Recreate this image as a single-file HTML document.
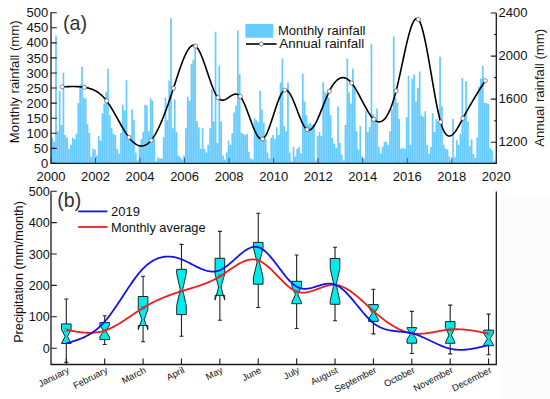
<!DOCTYPE html>
<html><head><meta charset="utf-8"><title>Rainfall</title>
<style>html,body{margin:0;padding:0;background:#fff;}svg{display:block;}</style>
</head><body>
<svg width="550" height="399" viewBox="0 0 550 399"><rect x="0" y="0" width="550" height="399" fill="#fff"/>
<rect x="500" y="197" width="50" height="202" fill="#fcfcfc"/>
<path d="M51.45 163.40V137.78h1.7V163.40zM53.31 163.40V141.70h1.7V163.40zM55.16 163.40V35.61h1.7V163.40zM57.02 163.40V131.15h1.7V163.40zM58.87 163.40V91.06h1.7V163.40zM60.73 163.40V125.12h1.7V163.40zM62.58 163.40V72.68h1.7V163.40zM64.44 163.40V135.07h1.7V163.40zM66.29 163.40V137.78h1.7V163.40zM68.15 163.40V148.63h1.7V163.40zM70.00 163.40V144.71h1.7V163.40zM71.86 163.40V137.78h1.7V163.40zM73.72 163.40V138.99h1.7V163.40zM75.57 163.40V133.86h1.7V163.40zM77.43 163.40V103.12h1.7V163.40zM79.28 163.40V84.43h1.7V163.40zM81.14 163.40V66.65h1.7V163.40zM82.99 163.40V97.69h1.7V163.40zM84.85 163.40V98.60h1.7V163.40zM86.70 163.40V124.22h1.7V163.40zM88.56 163.40V132.96h1.7V163.40zM90.41 163.40V156.47h1.7V163.40zM92.27 163.40V148.63h1.7V163.40zM94.12 163.40V149.54h1.7V163.40zM95.98 163.40V155.56h1.7V163.40zM97.84 163.40V135.97h1.7V163.40zM99.69 163.40V140.80h1.7V163.40zM101.55 163.40V113.37h1.7V163.40zM103.40 163.40V103.42h1.7V163.40zM105.26 163.40V91.67h1.7V163.40zM107.11 163.40V68.76h1.7V163.40zM108.97 163.40V115.18h1.7V163.40zM110.82 163.40V128.14h1.7V163.40zM112.68 163.40V133.86h1.7V163.40zM114.53 163.40V135.07h1.7V163.40zM116.39 163.40V148.63h1.7V163.40zM118.25 163.40V153.45h1.7V163.40zM120.10 163.40V132.96h1.7V163.40zM121.96 163.40V104.63h1.7V163.40zM123.81 163.40V110.35h1.7V163.40zM125.67 163.40V80.21h1.7V163.40zM127.52 163.40V136.88h1.7V163.40zM129.38 163.40V139.89h1.7V163.40zM131.23 163.40V109.45h1.7V163.40zM133.09 163.40V120.30h1.7V163.40zM134.94 163.40V152.55h1.7V163.40zM136.80 163.40V160.39h1.7V163.40zM138.65 163.40V145.62h1.7V163.40zM140.51 163.40V138.99h1.7V163.40zM142.37 163.40V132.05h1.7V163.40zM144.22 163.40V104.63h1.7V163.40zM146.08 163.40V105.53h1.7V163.40zM147.93 163.40V131.15h1.7V163.40zM149.79 163.40V98.60h1.7V163.40zM151.64 163.40V100.71h1.7V163.40zM153.50 163.40V138.99h1.7V163.40zM155.35 163.40V161.29h1.7V163.40zM157.21 163.40V157.37h1.7V163.40zM159.06 163.40V158.58h1.7V163.40zM160.92 163.40V158.58h1.7V163.40zM162.77 163.40V136.88h1.7V163.40zM164.63 163.40V97.69h1.7V163.40zM166.49 163.40V120.30h1.7V163.40zM168.34 163.40V80.52h1.7V163.40zM170.20 163.40V18.13h1.7V163.40zM172.05 163.40V128.14h1.7V163.40zM173.91 163.40V99.50h1.7V163.40zM175.76 163.40V132.05h1.7V163.40zM177.62 163.40V155.56h1.7V163.40zM179.47 163.40V157.37h1.7V163.40zM181.33 163.40V159.48h1.7V163.40zM183.18 163.40V155.56h1.7V163.40zM185.04 163.40V128.14h1.7V163.40zM186.90 163.40V96.79h1.7V163.40zM188.75 163.40V100.71h1.7V163.40zM190.61 163.40V63.94h1.7V163.40zM192.46 163.40V59.72h1.7V163.40zM194.32 163.40V43.74h1.7V163.40zM196.17 163.40V121.20h1.7V163.40zM198.03 163.40V127.23h1.7V163.40zM199.88 163.40V148.63h1.7V163.40zM201.74 163.40V128.14h1.7V163.40zM203.59 163.40V148.63h1.7V163.40zM205.45 163.40V152.55h1.7V163.40zM207.31 163.40V144.71h1.7V163.40zM209.16 163.40V128.14h1.7V163.40zM211.02 163.40V89.86h1.7V163.40zM212.87 163.40V121.20h1.7V163.40zM214.73 163.40V31.69h1.7V163.40zM216.58 163.40V142.90h1.7V163.40zM218.44 163.40V65.75h1.7V163.40zM220.29 163.40V121.20h1.7V163.40zM222.15 163.40V155.56h1.7V163.40zM224.00 163.40V159.48h1.7V163.40zM225.86 163.40V152.55h1.7V163.40zM227.71 163.40V140.80h1.7V163.40zM229.57 163.40V144.71h1.7V163.40zM231.43 163.40V132.96h1.7V163.40zM233.28 163.40V112.46h1.7V163.40zM235.14 163.40V105.53h1.7V163.40zM236.99 163.40V30.48h1.7V163.40zM238.85 163.40V74.19h1.7V163.40zM240.70 163.40V132.96h1.7V163.40zM242.56 163.40V133.86h1.7V163.40zM244.41 163.40V135.07h1.7V163.40zM246.27 163.40V133.86h1.7V163.40zM248.12 163.40V151.65h1.7V163.40zM249.98 163.40V158.58h1.7V163.40zM251.84 163.40V159.48h1.7V163.40zM253.69 163.40V118.19h1.7V163.40zM255.55 163.40V120.30h1.7V163.40zM257.40 163.40V122.11h1.7V163.40zM259.26 163.40V90.76h1.7V163.40zM261.11 163.40V109.45h1.7V163.40zM262.97 163.40V123.01h1.7V163.40zM264.82 163.40V138.99h1.7V163.40zM266.68 163.40V152.55h1.7V163.40zM268.53 163.40V158.58h1.7V163.40zM270.39 163.40V137.78h1.7V163.40zM272.24 163.40V135.07h1.7V163.40zM274.10 163.40V138.99h1.7V163.40zM275.96 163.40V127.23h1.7V163.40zM277.81 163.40V135.07h1.7V163.40zM279.67 163.40V82.62h1.7V163.40zM281.52 163.40V58.51h1.7V163.40zM283.38 163.40V126.03h1.7V163.40zM285.23 163.40V131.15h1.7V163.40zM287.09 163.40V82.62h1.7V163.40zM288.94 163.40V152.55h1.7V163.40zM290.80 163.40V161.29h1.7V163.40zM292.65 163.40V146.82h1.7V163.40zM294.51 163.40V156.47h1.7V163.40zM296.36 163.40V148.63h1.7V163.40zM298.22 163.40V146.82h1.7V163.40zM300.08 163.40V153.45h1.7V163.40zM301.93 163.40V73.58h1.7V163.40zM303.79 163.40V101.61h1.7V163.40zM305.64 163.40V115.18h1.7V163.40zM307.50 163.40V124.22h1.7V163.40zM309.35 163.40V123.01h1.7V163.40zM311.21 163.40V125.12h1.7V163.40zM313.06 163.40V124.22h1.7V163.40zM314.92 163.40V160.39h1.7V163.40zM316.77 163.40V135.97h1.7V163.40zM318.63 163.40V132.05h1.7V163.40zM320.49 163.40V135.97h1.7V163.40zM322.34 163.40V82.32h1.7V163.40zM324.20 163.40V91.67h1.7V163.40zM326.05 163.40V93.78h1.7V163.40zM327.91 163.40V97.69h1.7V163.40zM329.76 163.40V115.18h1.7V163.40zM331.62 163.40V137.78h1.7V163.40zM333.47 163.40V143.81h1.7V163.40zM335.33 163.40V147.73h1.7V163.40zM337.18 163.40V106.44h1.7V163.40zM339.04 163.40V142.90h1.7V163.40zM340.89 163.40V154.66h1.7V163.40zM342.75 163.40V160.39h1.7V163.40zM344.61 163.40V125.12h1.7V163.40zM346.46 163.40V58.51h1.7V163.40zM348.32 163.40V92.57h1.7V163.40zM350.17 163.40V103.42h1.7V163.40zM352.03 163.40V68.46h1.7V163.40zM353.88 163.40V88.05h1.7V163.40zM355.74 163.40V131.15h1.7V163.40zM357.59 163.40V149.54h1.7V163.40zM359.45 163.40V126.03h1.7V163.40zM361.30 163.40V156.47h1.7V163.40zM363.16 163.40V158.58h1.7V163.40zM365.02 163.40V111.26h1.7V163.40zM366.87 163.40V132.05h1.7V163.40zM368.73 163.40V127.23h1.7V163.40zM370.58 163.40V43.74h1.7V163.40zM372.44 163.40V114.27h1.7V163.40zM374.29 163.40V120.30h1.7V163.40zM376.15 163.40V108.55h1.7V163.40zM378.00 163.40V146.82h1.7V163.40zM379.86 163.40V153.45h1.7V163.40zM381.71 163.40V146.82h1.7V163.40zM383.57 163.40V141.70h1.7V163.40zM385.43 163.40V141.70h1.7V163.40zM387.28 163.40V144.71h1.7V163.40zM389.14 163.40V131.15h1.7V163.40zM390.99 163.40V109.45h1.7V163.40zM392.85 163.40V36.51h1.7V163.40zM394.70 163.40V97.69h1.7V163.40zM396.56 163.40V102.52h1.7V163.40zM398.41 163.40V119.09h1.7V163.40zM400.27 163.40V148.63h1.7V163.40zM402.12 163.40V147.73h1.7V163.40zM403.98 163.40V148.63h1.7V163.40zM405.83 163.40V117.29h1.7V163.40zM407.69 163.40V75.69h1.7V163.40zM409.55 163.40V144.71h1.7V163.40zM411.40 163.40V78.71h1.7V163.40zM413.26 163.40V74.49h1.7V163.40zM415.11 163.40V101.61h1.7V163.40zM416.97 163.40V88.05h1.7V163.40zM418.82 163.40V71.47h1.7V163.40zM420.68 163.40V115.18h1.7V163.40zM422.53 163.40V116.38h1.7V163.40zM424.39 163.40V111.26h1.7V163.40zM426.24 163.40V144.71h1.7V163.40zM428.10 163.40V153.45h1.7V163.40zM429.95 163.40V146.82h1.7V163.40zM431.81 163.40V113.37h1.7V163.40zM433.67 163.40V132.05h1.7V163.40zM435.52 163.40V119.09h1.7V163.40zM437.38 163.40V121.20h1.7V163.40zM439.23 163.40V56.70h1.7V163.40zM441.09 163.40V106.44h1.7V163.40zM442.94 163.40V144.71h1.7V163.40zM444.80 163.40V148.63h1.7V163.40zM446.65 163.40V149.54h1.7V163.40zM448.51 163.40V156.47h1.7V163.40zM450.36 163.40V160.39h1.7V163.40zM452.22 163.40V119.09h1.7V163.40zM454.08 163.40V157.37h1.7V163.40zM455.93 163.40V139.89h1.7V163.40zM457.79 163.40V144.71h1.7V163.40zM459.64 163.40V133.86h1.7V163.40zM461.50 163.40V78.10h1.7V163.40zM463.35 163.40V117.29h1.7V163.40zM465.21 163.40V81.12h1.7V163.40zM467.06 163.40V121.20h1.7V163.40zM468.92 163.40V146.22h1.7V163.40zM470.77 163.40V139.29h1.7V163.40zM472.63 163.40V154.06h1.7V163.40zM474.49 163.40V157.97h1.7V163.40zM476.34 163.40V137.48h1.7V163.40zM478.20 163.40V86.54h1.7V163.40zM480.05 163.40V78.41h1.7V163.40zM481.91 163.40V66.05h1.7V163.40zM483.76 163.40V103.12h1.7V163.40zM485.62 163.40V103.12h1.7V163.40zM487.47 163.40V104.02h1.7V163.40zM489.33 163.40V148.33h1.7V163.40zM491.18 163.40V150.14h1.7V163.40zM493.04 163.40V160.69h1.7V163.40zM494.89 163.40V161.89h1.7V163.40z" fill="#66ccff"/>
<path d="M62.13 86.90 L62.84 86.87 L63.54 86.83 L64.25 86.80 L64.96 86.76 L65.66 86.73 L66.37 86.70 L67.08 86.67 L67.78 86.65 L68.49 86.62 L69.19 86.60 L69.90 86.58 L70.61 86.56 L71.31 86.55 L72.02 86.54 L72.73 86.54 L73.43 86.54 L74.14 86.54 L74.84 86.55 L75.55 86.57 L76.26 86.58 L76.96 86.61 L77.67 86.64 L78.38 86.68 L79.08 86.72 L79.79 86.78 L80.49 86.83 L81.20 86.90 L81.91 86.97 L82.61 87.06 L83.32 87.15 L84.03 87.24 L84.73 87.35 L85.44 87.47 L86.14 87.60 L86.85 87.74 L87.56 87.89 L88.26 88.06 L88.97 88.24 L89.68 88.44 L90.38 88.65 L91.09 88.88 L91.79 89.14 L92.50 89.41 L93.21 89.70 L93.91 90.02 L94.62 90.36 L95.33 90.73 L96.03 91.12 L96.74 91.54 L97.44 91.99 L98.15 92.46 L98.86 92.97 L99.56 93.51 L100.27 94.08 L100.98 94.68 L101.68 95.32 L102.39 95.99 L103.09 96.70 L103.80 97.45 L104.51 98.24 L105.21 99.07 L105.92 99.94 L106.63 100.85 L107.33 101.81 L108.04 102.80 L108.74 103.83 L109.45 104.90 L110.16 106.00 L110.86 107.13 L111.57 108.29 L112.28 109.47 L112.98 110.68 L113.69 111.90 L114.39 113.13 L115.10 114.38 L115.81 115.64 L116.51 116.91 L117.22 118.18 L117.93 119.46 L118.63 120.73 L119.34 122.00 L120.04 123.26 L120.75 124.51 L121.46 125.75 L122.16 126.98 L122.87 128.18 L123.57 129.37 L124.28 130.53 L124.99 131.67 L125.69 132.78 L126.40 133.85 L127.11 134.89 L127.81 135.90 L128.52 136.86 L129.22 137.78 L129.93 138.66 L130.64 139.49 L131.34 140.27 L132.05 141.01 L132.76 141.70 L133.46 142.34 L134.17 142.93 L134.87 143.47 L135.58 143.96 L136.29 144.40 L136.99 144.79 L137.70 145.12 L138.41 145.40 L139.11 145.62 L139.82 145.79 L140.52 145.91 L141.23 145.97 L141.94 145.96 L142.64 145.91 L143.35 145.79 L144.06 145.61 L144.76 145.37 L145.47 145.07 L146.17 144.71 L146.88 144.29 L147.59 143.80 L148.29 143.25 L149.00 142.63 L149.71 141.95 L150.41 141.20 L151.12 140.39 L151.82 139.51 L152.53 138.56 L153.24 137.54 L153.94 136.47 L154.65 135.33 L155.36 134.13 L156.06 132.87 L156.77 131.56 L157.47 130.19 L158.18 128.77 L158.89 127.30 L159.59 125.78 L160.30 124.21 L161.01 122.60 L161.71 120.93 L162.42 119.23 L163.12 117.49 L163.83 115.70 L164.54 113.88 L165.24 112.02 L165.95 110.13 L166.66 108.20 L167.36 106.25 L168.07 104.26 L168.77 102.24 L169.48 100.20 L170.19 98.14 L170.89 96.05 L171.60 93.94 L172.31 91.81 L173.01 89.66 L173.72 87.50 L174.42 85.33 L175.13 83.14 L175.84 80.96 L176.54 78.79 L177.25 76.63 L177.96 74.48 L178.66 72.37 L179.37 70.28 L180.07 68.23 L180.78 66.23 L181.49 64.28 L182.19 62.39 L182.90 60.57 L183.60 58.81 L184.31 57.13 L185.02 55.54 L185.72 54.03 L186.43 52.62 L187.14 51.32 L187.84 50.12 L188.55 49.04 L189.25 48.08 L189.96 47.25 L190.67 46.56 L191.37 46.00 L192.08 45.60 L192.79 45.35 L193.49 45.26 L194.20 45.33 L194.90 45.58 L195.61 46.02 L196.32 46.63 L197.02 47.42 L197.73 48.38 L198.44 49.50 L199.14 50.76 L199.85 52.15 L200.55 53.67 L201.26 55.29 L201.97 57.01 L202.67 58.82 L203.38 60.71 L204.09 62.66 L204.79 64.67 L205.50 66.72 L206.20 68.80 L206.91 70.89 L207.62 73.00 L208.32 75.11 L209.03 77.20 L209.74 79.26 L210.44 81.29 L211.15 83.27 L211.85 85.19 L212.56 87.05 L213.27 88.82 L213.97 90.49 L214.68 92.06 L215.39 93.52 L216.09 94.85 L216.80 96.04 L217.50 97.08 L218.21 97.96 L218.92 98.68 L219.62 99.24 L220.33 99.66 L221.04 99.94 L221.74 100.10 L222.45 100.15 L223.15 100.10 L223.86 99.96 L224.57 99.74 L225.27 99.45 L225.98 99.10 L226.69 98.70 L227.39 98.27 L228.10 97.81 L228.80 97.34 L229.51 96.86 L230.22 96.38 L230.92 95.92 L231.63 95.49 L232.34 95.10 L233.04 94.75 L233.75 94.47 L234.45 94.25 L235.16 94.12 L235.87 94.07 L236.57 94.13 L237.28 94.30 L237.99 94.60 L238.69 95.03 L239.40 95.60 L240.10 96.33 L240.81 97.22 L241.52 98.27 L242.22 99.46 L242.93 100.79 L243.63 102.24 L244.34 103.79 L245.05 105.44 L245.75 107.16 L246.46 108.96 L247.17 110.80 L247.87 112.69 L248.58 114.61 L249.28 116.54 L249.99 118.48 L250.70 120.40 L251.40 122.30 L252.11 124.16 L252.82 125.98 L253.52 127.73 L254.23 129.41 L254.93 131.00 L255.64 132.48 L256.35 133.85 L257.05 135.10 L257.76 136.20 L258.47 137.15 L259.17 137.94 L259.88 138.54 L260.58 138.96 L261.29 139.17 L262.00 139.15 L262.70 138.91 L263.41 138.44 L264.12 137.74 L264.82 136.84 L265.53 135.74 L266.23 134.47 L266.94 133.04 L267.65 131.47 L268.35 129.76 L269.06 127.95 L269.77 126.03 L270.47 124.03 L271.18 121.96 L271.88 119.84 L272.59 117.68 L273.30 115.50 L274.00 113.32 L274.71 111.14 L275.42 108.99 L276.12 106.87 L276.83 104.82 L277.53 102.83 L278.24 100.92 L278.95 99.12 L279.65 97.44 L280.36 95.88 L281.07 94.47 L281.77 93.23 L282.48 92.16 L283.18 91.29 L283.89 90.62 L284.60 90.18 L285.30 89.97 L286.01 90.00 L286.72 90.24 L287.42 90.69 L288.13 91.33 L288.83 92.15 L289.54 93.13 L290.25 94.26 L290.95 95.53 L291.66 96.91 L292.37 98.40 L293.07 99.99 L293.78 101.65 L294.48 103.38 L295.19 105.16 L295.90 106.98 L296.60 108.82 L297.31 110.67 L298.02 112.51 L298.72 114.34 L299.43 116.13 L300.13 117.88 L300.84 119.56 L301.55 121.17 L302.25 122.70 L302.96 124.12 L303.67 125.42 L304.37 126.59 L305.08 127.62 L305.78 128.49 L306.49 129.18 L307.20 129.69 L307.90 130.01 L308.61 130.14 L309.31 130.09 L310.02 129.87 L310.73 129.49 L311.43 128.95 L312.14 128.28 L312.85 127.47 L313.55 126.53 L314.26 125.48 L314.96 124.32 L315.67 123.06 L316.38 121.70 L317.08 120.27 L317.79 118.76 L318.50 117.19 L319.20 115.56 L319.91 113.88 L320.61 112.17 L321.32 110.42 L322.03 108.66 L322.73 106.88 L323.44 105.10 L324.15 103.32 L324.85 101.56 L325.56 99.82 L326.26 98.11 L326.97 96.44 L327.68 94.82 L328.38 93.25 L329.09 91.76 L329.80 90.33 L330.50 88.99 L331.21 87.72 L331.91 86.53 L332.62 85.41 L333.33 84.38 L334.03 83.41 L334.74 82.53 L335.45 81.71 L336.15 80.98 L336.86 80.31 L337.56 79.73 L338.27 79.21 L338.98 78.77 L339.68 78.41 L340.39 78.11 L341.10 77.89 L341.80 77.75 L342.51 77.67 L343.21 77.67 L343.92 77.74 L344.63 77.88 L345.33 78.09 L346.04 78.37 L346.75 78.72 L347.45 79.14 L348.16 79.64 L348.86 80.20 L349.57 80.83 L350.28 81.53 L350.98 82.30 L351.69 83.14 L352.40 84.04 L353.10 85.01 L353.81 86.03 L354.51 87.11 L355.22 88.24 L355.93 89.41 L356.63 90.62 L357.34 91.86 L358.05 93.13 L358.75 94.43 L359.46 95.75 L360.16 97.08 L360.87 98.43 L361.58 99.78 L362.28 101.13 L362.99 102.48 L363.70 103.82 L364.40 105.14 L365.11 106.45 L365.81 107.74 L366.52 109.00 L367.23 110.23 L367.93 111.42 L368.64 112.56 L369.34 113.67 L370.05 114.72 L370.76 115.72 L371.46 116.65 L372.17 117.52 L372.88 118.33 L373.58 119.05 L374.29 119.70 L374.99 120.27 L375.70 120.75 L376.41 121.14 L377.11 121.45 L377.82 121.67 L378.53 121.80 L379.23 121.84 L379.94 121.78 L380.64 121.63 L381.35 121.38 L382.06 121.03 L382.76 120.58 L383.47 120.03 L384.18 119.38 L384.88 118.61 L385.59 117.74 L386.29 116.76 L387.00 115.67 L387.71 114.47 L388.41 113.15 L389.12 111.72 L389.83 110.17 L390.53 108.49 L391.24 106.70 L391.94 104.79 L392.65 102.75 L393.36 100.58 L394.06 98.28 L394.77 95.86 L395.48 93.30 L396.18 90.61 L396.89 87.79 L397.59 84.85 L398.30 81.81 L399.01 78.68 L399.71 75.49 L400.42 72.24 L401.13 68.94 L401.83 65.63 L402.54 62.31 L403.24 59.00 L403.95 55.71 L404.66 52.46 L405.36 49.26 L406.07 46.14 L406.78 43.10 L407.48 40.17 L408.19 37.35 L408.89 34.67 L409.60 32.13 L410.31 29.76 L411.01 27.58 L411.72 25.58 L412.43 23.80 L413.13 22.25 L413.84 20.94 L414.54 19.90 L415.25 19.12 L415.96 18.64 L416.66 18.46 L417.37 18.61 L418.08 19.09 L418.78 19.93 L419.49 21.11 L420.19 22.62 L420.90 24.45 L421.61 26.56 L422.31 28.95 L423.02 31.58 L423.73 34.45 L424.43 37.53 L425.14 40.80 L425.84 44.25 L426.55 47.85 L427.26 51.59 L427.96 55.44 L428.67 59.38 L429.37 63.40 L430.08 67.48 L430.79 71.60 L431.49 75.73 L432.20 79.87 L432.91 83.98 L433.61 88.05 L434.32 92.06 L435.02 95.99 L435.73 99.82 L436.44 103.53 L437.14 107.11 L437.85 110.53 L438.56 113.77 L439.26 116.81 L439.97 119.64 L440.67 122.23 L441.38 124.57 L442.09 126.67 L442.79 128.53 L443.50 130.17 L444.21 131.58 L444.91 132.78 L445.62 133.78 L446.32 134.59 L447.03 135.21 L447.74 135.65 L448.44 135.93 L449.15 136.04 L449.86 136.00 L450.56 135.82 L451.27 135.50 L451.97 135.05 L452.68 134.49 L453.39 133.82 L454.09 133.05 L454.80 132.18 L455.51 131.23 L456.21 130.20 L456.92 129.11 L457.62 127.95 L458.33 126.75 L459.04 125.50 L459.74 124.22 L460.45 122.91 L461.16 121.59 L461.86 120.26 L462.57 118.93 L463.27 117.61 L463.98 116.29 L464.69 115.00 L465.39 113.71 L466.10 112.43 L466.81 111.16 L467.51 109.91 L468.22 108.66 L468.92 107.43 L469.63 106.20 L470.34 104.98 L471.04 103.77 L471.75 102.57 L472.46 101.37 L473.16 100.19 L473.87 99.01 L474.57 97.83 L475.28 96.66 L475.99 95.50 L476.69 94.34 L477.40 93.19 L478.11 92.04 L478.81 90.89 L479.52 89.75 L480.22 88.61 L480.93 87.48 L481.64 86.34 L482.34 85.21 L483.05 84.08 L483.76 82.95 L484.46 81.83 L485.17 80.70" fill="none" stroke="#000" stroke-width="1.6"/>
<circle cx="62.13" cy="86.90" r="2.1" fill="#fff" stroke="#666" stroke-width="0.8"/>
<circle cx="84.40" cy="87.30" r="2.1" fill="#fff" stroke="#666" stroke-width="0.8"/>
<circle cx="106.66" cy="100.90" r="2.1" fill="#fff" stroke="#666" stroke-width="0.8"/>
<circle cx="128.93" cy="137.40" r="2.1" fill="#fff" stroke="#666" stroke-width="0.8"/>
<circle cx="151.19" cy="140.30" r="2.1" fill="#fff" stroke="#666" stroke-width="0.8"/>
<circle cx="173.46" cy="88.30" r="2.1" fill="#fff" stroke="#666" stroke-width="0.8"/>
<circle cx="195.72" cy="46.10" r="2.1" fill="#fff" stroke="#666" stroke-width="0.8"/>
<circle cx="217.99" cy="97.70" r="2.1" fill="#fff" stroke="#666" stroke-width="0.8"/>
<circle cx="240.25" cy="96.50" r="2.1" fill="#fff" stroke="#666" stroke-width="0.8"/>
<circle cx="262.52" cy="139.00" r="2.1" fill="#fff" stroke="#666" stroke-width="0.8"/>
<circle cx="284.78" cy="90.10" r="2.1" fill="#fff" stroke="#666" stroke-width="0.8"/>
<circle cx="307.05" cy="129.60" r="2.1" fill="#fff" stroke="#666" stroke-width="0.8"/>
<circle cx="329.31" cy="91.30" r="2.1" fill="#fff" stroke="#666" stroke-width="0.8"/>
<circle cx="351.58" cy="83.00" r="2.1" fill="#fff" stroke="#666" stroke-width="0.8"/>
<circle cx="373.84" cy="119.30" r="2.1" fill="#fff" stroke="#666" stroke-width="0.8"/>
<circle cx="396.11" cy="90.90" r="2.1" fill="#fff" stroke="#666" stroke-width="0.8"/>
<circle cx="418.37" cy="19.40" r="2.1" fill="#fff" stroke="#666" stroke-width="0.8"/>
<circle cx="440.64" cy="122.10" r="2.1" fill="#fff" stroke="#666" stroke-width="0.8"/>
<circle cx="462.90" cy="118.30" r="2.1" fill="#fff" stroke="#666" stroke-width="0.8"/>
<circle cx="485.17" cy="80.70" r="2.1" fill="#fff" stroke="#666" stroke-width="0.8"/>
<path d="M51.0 12.2V163.4H496.3V13.0" fill="none" stroke="#1a1a1a" stroke-width="1.3"/>
<path d="M51.0 163.40h5.8M51.0 148.33h5.8M51.0 133.26h5.8M51.0 118.19h5.8M51.0 103.12h5.8M51.0 88.05h5.8M51.0 72.98h5.8M51.0 57.91h5.8M51.0 42.84h5.8M51.0 27.77h5.8M51.0 12.70h5.8M496.3 13.00h-5.5M496.3 34.54h-2.2M496.3 56.08h-5.5M496.3 77.62h-2.2M496.3 99.16h-5.5M496.3 120.70h-2.2M496.3 142.24h-5.5" fill="none" stroke="#1a1a1a" stroke-width="1.1"/>
<path d="M51.00 163.40v-5.5M95.53 163.40v-5.5M140.06 163.40v-5.5M184.59 163.40v-5.5M229.12 163.40v-5.5M273.65 163.40v-5.5M318.18 163.40v-5.5M362.71 163.40v-5.5M407.24 163.40v-5.5M451.77 163.40v-5.5M496.30 163.40v-5.5" fill="none" stroke="#2a3a4a" stroke-width="0.8"/>
<g font-family='"Liberation Sans", sans-serif' font-size="13" fill="#111">
<text x="48.2" y="168.00" text-anchor="end">0</text>
<text x="48.2" y="152.93" text-anchor="end">50</text>
<text x="48.2" y="137.86" text-anchor="end">100</text>
<text x="48.2" y="122.79" text-anchor="end">150</text>
<text x="48.2" y="107.72" text-anchor="end">200</text>
<text x="48.2" y="92.65" text-anchor="end">250</text>
<text x="48.2" y="77.58" text-anchor="end">300</text>
<text x="48.2" y="62.51" text-anchor="end">350</text>
<text x="48.2" y="47.44" text-anchor="end">400</text>
<text x="48.2" y="32.37" text-anchor="end">450</text>
<text x="48.2" y="17.30" text-anchor="end">500</text>
<text x="498.6" y="16.90">2400</text>
<text x="498.6" y="59.98">2000</text>
<text x="498.6" y="103.06">1600</text>
<text x="498.6" y="146.14">1200</text>
<text x="51.00" y="180.7" text-anchor="middle">2000</text>
<text x="95.53" y="180.7" text-anchor="middle">2002</text>
<text x="140.06" y="180.7" text-anchor="middle">2004</text>
<text x="184.59" y="180.7" text-anchor="middle">2006</text>
<text x="229.12" y="180.7" text-anchor="middle">2008</text>
<text x="273.65" y="180.7" text-anchor="middle">2010</text>
<text x="318.18" y="180.7" text-anchor="middle">2012</text>
<text x="362.71" y="180.7" text-anchor="middle">2014</text>
<text x="407.24" y="180.7" text-anchor="middle">2016</text>
<text x="451.77" y="180.7" text-anchor="middle">2018</text>
<text x="496.30" y="180.7" text-anchor="middle">2020</text>
<text transform="translate(19.4 81.8) rotate(-90)" text-anchor="middle" font-size="13.15">Monthly rainfall (mm)</text>
<text transform="translate(543.8 87.8) rotate(-90)" text-anchor="middle" font-size="13.2">Annual rainfall (mm)</text>
</g>
<text x="63.0" y="29.9" font-family='"Liberation Sans", sans-serif' font-size="19.8" fill="#333">(a)</text>
<rect x="245.4" y="23.9" width="27.9" height="13.8" fill="#66ccff"/>
<text x="278" y="35" font-family='"Liberation Sans", sans-serif' font-size="13" fill="#111">Monthly rainfall</text>
<path d="M246 44.0H276.6" stroke="#000" stroke-width="1.6"/>
<circle cx="261.3" cy="44.0" r="2.1" fill="#fff" stroke="#666" stroke-width="0.8"/>
<text x="279.3" y="48.1" font-family='"Liberation Sans", sans-serif' font-size="13.4" fill="#111">Annual rainfall</text>
<path d="M66.30 299.0V323.9M66.30 343.5V362.4M64.30 299.0h4.0M64.30 362.4h4.0" stroke="#222" stroke-width="1.1" fill="none"/><path d="M61.50 323.90 L71.10 323.90 L71.10 329.62 L67.50 336.50 L71.10 343.38 L71.10 343.50 L61.50 343.50 L61.50 343.38 L65.10 336.50 L61.50 329.62Z" fill="#00ecec" stroke="#111" stroke-width="0.9" stroke-linejoin="miter"/><rect x="64.80" y="328.30" width="3" height="3" fill="none" stroke="#3b8f8f" stroke-width="0.7"/><path d="M104.69 315.7V322.6M104.69 339.6V344.5M102.69 315.7h4.0M102.69 344.5h4.0" stroke="#222" stroke-width="1.1" fill="none"/><path d="M99.89 322.60 L109.49 322.60 L109.49 325.03 L105.89 331.00 L109.49 336.97 L109.49 339.60 L99.89 339.60 L99.89 336.97 L103.49 331.00 L99.89 325.03Z" fill="#00ecec" stroke="#111" stroke-width="0.9" stroke-linejoin="miter"/><rect x="103.19" y="329.10" width="3" height="3" fill="none" stroke="#3b8f8f" stroke-width="0.7"/><path d="M143.08 276.3V296.5M143.08 325.5V341.7M141.08 276.3h4.0M141.08 341.7h4.0" stroke="#222" stroke-width="1.1" fill="none"/><path d="M138.28 296.50 L147.88 296.50 L147.88 309.32 L144.28 319.50 L147.88 329.68 L147.88 325.50 L138.28 325.50 L138.28 329.68 L141.88 319.50 L138.28 309.32Z" fill="#00ecec" stroke="#111" stroke-width="0.9" stroke-linejoin="miter"/><rect x="141.58" y="306.40" width="3" height="3" fill="none" stroke="#3b8f8f" stroke-width="0.7"/><path d="M181.47 244.4V269.3M181.47 314.6V336.2M179.47 244.4h4.0M179.47 336.2h4.0" stroke="#222" stroke-width="1.1" fill="none"/><path d="M176.67 269.30 L186.27 269.30 L186.27 273.70 L182.67 289.60 L186.27 305.50 L186.27 314.60 L176.67 314.60 L176.67 305.50 L180.27 289.60 L176.67 273.70Z" fill="#00ecec" stroke="#111" stroke-width="0.9" stroke-linejoin="miter"/><rect x="179.97" y="289.70" width="3" height="3" fill="none" stroke="#3b8f8f" stroke-width="0.7"/><path d="M219.86 231.4V258.3M219.86 295.4V320.2M217.86 231.4h4.0M217.86 320.2h4.0" stroke="#222" stroke-width="1.1" fill="none"/><path d="M215.06 258.30 L224.66 258.30 L224.66 274.08 L221.06 287.10 L224.66 300.12 L224.66 295.40 L215.06 295.40 L215.06 300.12 L218.66 287.10 L215.06 274.08Z" fill="#00ecec" stroke="#111" stroke-width="0.9" stroke-linejoin="miter"/><rect x="218.36" y="274.90" width="3" height="3" fill="none" stroke="#3b8f8f" stroke-width="0.7"/><path d="M258.25 213.3V242.4M258.25 284.2V307.5M256.25 213.3h4.0M256.25 307.5h4.0" stroke="#222" stroke-width="1.1" fill="none"/><path d="M253.45 242.40 L263.05 242.40 L263.05 247.83 L259.45 262.50 L263.05 277.17 L263.05 284.20 L253.45 284.20 L253.45 277.17 L257.05 262.50 L253.45 247.83Z" fill="#00ecec" stroke="#111" stroke-width="0.9" stroke-linejoin="miter"/><rect x="256.75" y="258.90" width="3" height="3" fill="none" stroke="#3b8f8f" stroke-width="0.7"/><path d="M296.64 255.0V281.3M296.64 303.7V328.5M294.64 255.0h4.0M294.64 328.5h4.0" stroke="#222" stroke-width="1.1" fill="none"/><path d="M291.84 281.30 L301.44 281.30 L301.44 286.64 L297.84 294.50 L301.44 302.36 L301.44 303.70 L291.84 303.70 L291.84 302.36 L295.44 294.50 L291.84 286.64Z" fill="#00ecec" stroke="#111" stroke-width="0.9" stroke-linejoin="miter"/><rect x="295.14" y="290.00" width="3" height="3" fill="none" stroke="#3b8f8f" stroke-width="0.7"/><path d="M335.03 247.3V258.5M335.03 304.3V320.8M333.03 247.3h4.0M333.03 320.8h4.0" stroke="#222" stroke-width="1.1" fill="none"/><path d="M330.23 258.50 L339.83 258.50 L339.83 268.52 L336.23 284.60 L339.83 300.68 L339.83 304.30 L330.23 304.30 L330.23 300.68 L333.83 284.60 L330.23 268.52Z" fill="#00ecec" stroke="#111" stroke-width="0.9" stroke-linejoin="miter"/><rect x="333.53" y="283.40" width="3" height="3" fill="none" stroke="#3b8f8f" stroke-width="0.7"/><path d="M373.42 289.3V304.6M373.42 321.4V333.9M371.42 289.3h4.0M371.42 333.9h4.0" stroke="#222" stroke-width="1.1" fill="none"/><path d="M368.62 304.60 L378.22 304.60 L378.22 307.20 L374.62 313.10 L378.22 319.00 L378.22 321.40 L368.62 321.40 L368.62 319.00 L372.22 313.10 L368.62 307.20Z" fill="#00ecec" stroke="#111" stroke-width="0.9" stroke-linejoin="miter"/><rect x="371.92" y="309.50" width="3" height="3" fill="none" stroke="#3b8f8f" stroke-width="0.7"/><path d="M411.81 311.4V327.6M411.81 343.2V353.5M409.81 311.4h4.0M409.81 353.5h4.0" stroke="#222" stroke-width="1.1" fill="none"/><path d="M407.01 327.60 L416.61 327.60 L416.61 328.42 L413.01 333.90 L416.61 339.38 L416.61 343.20 L407.01 343.20 L407.01 339.38 L410.61 333.90 L407.01 328.42Z" fill="#00ecec" stroke="#111" stroke-width="0.9" stroke-linejoin="miter"/><rect x="410.31" y="331.80" width="3" height="3" fill="none" stroke="#3b8f8f" stroke-width="0.7"/><path d="M450.20 305.1V321.6M450.20 343.3V353.9M448.20 305.1h4.0M448.20 353.9h4.0" stroke="#222" stroke-width="1.1" fill="none"/><path d="M445.40 321.60 L455.00 321.60 L455.00 327.38 L451.40 335.00 L455.00 342.62 L455.00 343.30 L445.40 343.30 L445.40 342.62 L449.00 335.00 L445.40 327.38Z" fill="#00ecec" stroke="#111" stroke-width="0.9" stroke-linejoin="miter"/><rect x="448.70" y="328.00" width="3" height="3" fill="none" stroke="#3b8f8f" stroke-width="0.7"/><path d="M488.59 314.1V330.1M488.59 345.7V354.7M486.59 314.1h4.0M486.59 354.7h4.0" stroke="#222" stroke-width="1.1" fill="none"/><path d="M483.79 330.10 L493.39 330.10 L493.39 333.52 L489.79 339.00 L493.39 344.48 L493.39 345.70 L483.79 345.70 L483.79 344.48 L487.39 339.00 L483.79 333.52Z" fill="#00ecec" stroke="#111" stroke-width="0.9" stroke-linejoin="miter"/><rect x="487.09" y="332.10" width="3" height="3" fill="none" stroke="#3b8f8f" stroke-width="0.7"/>
<path d="M66.30 329.80 L67.36 330.00 L68.42 330.21 L69.48 330.41 L70.53 330.61 L71.59 330.80 L72.65 330.99 L73.71 331.18 L74.77 331.36 L75.83 331.54 L76.88 331.70 L77.94 331.86 L79.00 332.01 L80.06 332.15 L81.12 332.28 L82.18 332.39 L83.23 332.50 L84.29 332.59 L85.35 332.67 L86.41 332.73 L87.47 332.77 L88.53 332.80 L89.58 332.82 L90.64 332.81 L91.70 332.79 L92.76 332.74 L93.82 332.67 L94.88 332.59 L95.93 332.48 L96.99 332.34 L98.05 332.19 L99.11 332.01 L100.17 331.80 L101.23 331.56 L102.28 331.30 L103.34 331.01 L104.40 330.69 L105.46 330.34 L106.52 329.97 L107.58 329.56 L108.63 329.13 L109.69 328.67 L110.75 328.18 L111.81 327.68 L112.87 327.15 L113.93 326.60 L114.99 326.03 L116.04 325.44 L117.10 324.84 L118.16 324.22 L119.22 323.58 L120.28 322.93 L121.34 322.27 L122.39 321.60 L123.45 320.92 L124.51 320.22 L125.57 319.52 L126.63 318.82 L127.69 318.11 L128.74 317.39 L129.80 316.67 L130.86 315.95 L131.92 315.23 L132.98 314.51 L134.04 313.79 L135.09 313.08 L136.15 312.37 L137.21 311.66 L138.27 310.96 L139.33 310.27 L140.39 309.59 L141.44 308.92 L142.50 308.26 L143.56 307.61 L144.62 306.97 L145.68 306.35 L146.74 305.74 L147.79 305.14 L148.85 304.56 L149.91 303.99 L150.97 303.43 L152.03 302.88 L153.09 302.34 L154.14 301.81 L155.20 301.29 L156.26 300.79 L157.32 300.29 L158.38 299.81 L159.44 299.33 L160.50 298.86 L161.55 298.41 L162.61 297.96 L163.67 297.52 L164.73 297.09 L165.79 296.66 L166.85 296.25 L167.90 295.84 L168.96 295.44 L170.02 295.05 L171.08 294.66 L172.14 294.28 L173.20 293.91 L174.25 293.55 L175.31 293.19 L176.37 292.83 L177.43 292.48 L178.49 292.14 L179.55 291.80 L180.60 291.47 L181.66 291.14 L182.72 290.82 L183.78 290.50 L184.84 290.18 L185.90 289.86 L186.95 289.55 L188.01 289.23 L189.07 288.92 L190.13 288.60 L191.19 288.29 L192.25 287.97 L193.30 287.64 L194.36 287.32 L195.42 286.99 L196.48 286.65 L197.54 286.31 L198.60 285.96 L199.65 285.61 L200.71 285.24 L201.77 284.87 L202.83 284.49 L203.89 284.09 L204.95 283.69 L206.00 283.27 L207.06 282.84 L208.12 282.40 L209.18 281.95 L210.24 281.48 L211.30 280.99 L212.36 280.49 L213.41 279.97 L214.47 279.43 L215.53 278.88 L216.59 278.30 L217.65 277.71 L218.71 277.09 L219.76 276.46 L220.82 275.80 L221.88 275.12 L222.94 274.43 L224.00 273.72 L225.06 273.00 L226.11 272.27 L227.17 271.54 L228.23 270.80 L229.29 270.07 L230.35 269.33 L231.41 268.61 L232.46 267.89 L233.52 267.18 L234.58 266.48 L235.64 265.80 L236.70 265.14 L237.76 264.50 L238.81 263.89 L239.87 263.30 L240.93 262.75 L241.99 262.23 L243.05 261.74 L244.11 261.29 L245.16 260.89 L246.22 260.53 L247.28 260.21 L248.34 259.95 L249.40 259.74 L250.46 259.58 L251.51 259.48 L252.57 259.44 L253.63 259.47 L254.69 259.56 L255.75 259.73 L256.81 259.96 L257.87 260.27 L258.92 260.65 L259.98 261.12 L261.04 261.65 L262.10 262.25 L263.16 262.91 L264.22 263.64 L265.27 264.41 L266.33 265.24 L267.39 266.11 L268.45 267.03 L269.51 267.98 L270.57 268.96 L271.62 269.97 L272.68 271.01 L273.74 272.07 L274.80 273.14 L275.86 274.22 L276.92 275.31 L277.97 276.41 L279.03 277.50 L280.09 278.58 L281.15 279.66 L282.21 280.72 L283.27 281.76 L284.32 282.78 L285.38 283.77 L286.44 284.73 L287.50 285.66 L288.56 286.54 L289.62 287.38 L290.67 288.17 L291.73 288.91 L292.79 289.58 L293.85 290.20 L294.91 290.75 L295.97 291.23 L297.02 291.64 L298.08 291.97 L299.14 292.23 L300.20 292.42 L301.26 292.54 L302.32 292.60 L303.38 292.61 L304.43 292.56 L305.49 292.46 L306.55 292.32 L307.61 292.14 L308.67 291.91 L309.73 291.65 L310.78 291.37 L311.84 291.05 L312.90 290.71 L313.96 290.35 L315.02 289.98 L316.08 289.59 L317.13 289.20 L318.19 288.80 L319.25 288.40 L320.31 288.00 L321.37 287.61 L322.43 287.23 L323.48 286.87 L324.54 286.52 L325.60 286.20 L326.66 285.90 L327.72 285.64 L328.78 285.40 L329.83 285.20 L330.89 285.05 L331.95 284.94 L333.01 284.87 L334.07 284.86 L335.13 284.91 L336.18 285.01 L337.24 285.17 L338.30 285.39 L339.36 285.66 L340.42 285.98 L341.48 286.35 L342.53 286.77 L343.59 287.23 L344.65 287.74 L345.71 288.29 L346.77 288.88 L347.83 289.51 L348.89 290.17 L349.94 290.87 L351.00 291.60 L352.06 292.36 L353.12 293.15 L354.18 293.96 L355.24 294.80 L356.29 295.66 L357.35 296.54 L358.41 297.43 L359.47 298.35 L360.53 299.28 L361.59 300.22 L362.64 301.17 L363.70 302.13 L364.76 303.10 L365.82 304.07 L366.88 305.04 L367.94 306.02 L368.99 306.99 L370.05 307.96 L371.11 308.92 L372.17 309.88 L373.23 310.83 L374.29 311.77 L375.34 312.69 L376.40 313.60 L377.46 314.50 L378.52 315.39 L379.58 316.26 L380.64 317.12 L381.69 317.96 L382.75 318.79 L383.81 319.60 L384.87 320.40 L385.93 321.17 L386.99 321.93 L388.04 322.67 L389.10 323.40 L390.16 324.10 L391.22 324.78 L392.28 325.44 L393.34 326.08 L394.39 326.70 L395.45 327.30 L396.51 327.87 L397.57 328.42 L398.63 328.95 L399.69 329.45 L400.75 329.93 L401.80 330.38 L402.86 330.81 L403.92 331.21 L404.98 331.58 L406.04 331.93 L407.10 332.24 L408.15 332.53 L409.21 332.79 L410.27 333.02 L411.33 333.22 L412.39 333.39 L413.45 333.53 L414.50 333.63 L415.56 333.72 L416.62 333.77 L417.68 333.80 L418.74 333.81 L419.80 333.79 L420.85 333.75 L421.91 333.69 L422.97 333.62 L424.03 333.53 L425.09 333.42 L426.15 333.29 L427.20 333.16 L428.26 333.01 L429.32 332.85 L430.38 332.68 L431.44 332.50 L432.50 332.32 L433.55 332.13 L434.61 331.94 L435.67 331.75 L436.73 331.55 L437.79 331.35 L438.85 331.16 L439.90 330.97 L440.96 330.78 L442.02 330.59 L443.08 330.42 L444.14 330.25 L445.20 330.09 L446.26 329.94 L447.31 329.80 L448.37 329.68 L449.43 329.57 L450.49 329.48 L451.55 329.40 L452.61 329.34 L453.66 329.29 L454.72 329.26 L455.78 329.25 L456.84 329.25 L457.90 329.26 L458.96 329.29 L460.01 329.33 L461.07 329.38 L462.13 329.44 L463.19 329.52 L464.25 329.61 L465.31 329.70 L466.36 329.81 L467.42 329.93 L468.48 330.05 L469.54 330.19 L470.60 330.33 L471.66 330.48 L472.71 330.64 L473.77 330.81 L474.83 330.98 L475.89 331.16 L476.95 331.34 L478.01 331.53 L479.06 331.73 L480.12 331.92 L481.18 332.13 L482.24 332.33 L483.30 332.54 L484.36 332.75 L485.41 332.96 L486.47 333.17 L487.53 333.39 L488.59 333.60" fill="none" stroke="#ee1c1c" stroke-width="1.8"/>
<path d="M66.30 343.30 L67.36 343.00 L68.42 342.70 L69.48 342.40 L70.53 342.09 L71.59 341.78 L72.65 341.46 L73.71 341.13 L74.77 340.79 L75.83 340.44 L76.88 340.08 L77.94 339.71 L79.00 339.32 L80.06 338.91 L81.12 338.49 L82.18 338.05 L83.23 337.58 L84.29 337.10 L85.35 336.59 L86.41 336.06 L87.47 335.50 L88.53 334.91 L89.58 334.30 L90.64 333.66 L91.70 332.98 L92.76 332.27 L93.82 331.53 L94.88 330.75 L95.93 329.94 L96.99 329.08 L98.05 328.19 L99.11 327.26 L100.17 326.28 L101.23 325.26 L102.28 324.19 L103.34 323.08 L104.40 321.92 L105.46 320.72 L106.52 319.46 L107.58 318.16 L108.63 316.82 L109.69 315.44 L110.75 314.02 L111.81 312.58 L112.87 311.10 L113.93 309.59 L114.99 308.06 L116.04 306.51 L117.10 304.94 L118.16 303.35 L119.22 301.75 L120.28 300.14 L121.34 298.53 L122.39 296.91 L123.45 295.29 L124.51 293.67 L125.57 292.06 L126.63 290.45 L127.69 288.85 L128.74 287.27 L129.80 285.70 L130.86 284.15 L131.92 282.63 L132.98 281.12 L134.04 279.65 L135.09 278.21 L136.15 276.80 L137.21 275.42 L138.27 274.09 L139.33 272.80 L140.39 271.55 L141.44 270.35 L142.50 269.20 L143.56 268.11 L144.62 267.07 L145.68 266.08 L146.74 265.15 L147.79 264.27 L148.85 263.44 L149.91 262.67 L150.97 261.94 L152.03 261.26 L153.09 260.64 L154.14 260.06 L155.20 259.52 L156.26 259.04 L157.32 258.60 L158.38 258.20 L159.44 257.85 L160.50 257.55 L161.55 257.28 L162.61 257.06 L163.67 256.88 L164.73 256.74 L165.79 256.64 L166.85 256.57 L167.90 256.55 L168.96 256.56 L170.02 256.61 L171.08 256.70 L172.14 256.82 L173.20 256.98 L174.25 257.17 L175.31 257.39 L176.37 257.65 L177.43 257.93 L178.49 258.25 L179.55 258.60 L180.60 258.97 L181.66 259.38 L182.72 259.81 L183.78 260.26 L184.84 260.74 L185.90 261.24 L186.95 261.75 L188.01 262.27 L189.07 262.81 L190.13 263.35 L191.19 263.90 L192.25 264.45 L193.30 265.00 L194.36 265.55 L195.42 266.08 L196.48 266.61 L197.54 267.13 L198.60 267.63 L199.65 268.12 L200.71 268.58 L201.77 269.03 L202.83 269.44 L203.89 269.83 L204.95 270.18 L206.00 270.50 L207.06 270.78 L208.12 271.03 L209.18 271.23 L210.24 271.38 L211.30 271.48 L212.36 271.54 L213.41 271.54 L214.47 271.48 L215.53 271.36 L216.59 271.18 L217.65 270.94 L218.71 270.62 L219.76 270.24 L220.82 269.78 L221.88 269.25 L222.94 268.66 L224.00 268.01 L225.06 267.31 L226.11 266.56 L227.17 265.76 L228.23 264.93 L229.29 264.06 L230.35 263.16 L231.41 262.24 L232.46 261.31 L233.52 260.36 L234.58 259.41 L235.64 258.45 L236.70 257.50 L237.76 256.55 L238.81 255.62 L239.87 254.71 L240.93 253.82 L241.99 252.96 L243.05 252.13 L244.11 251.35 L245.16 250.61 L246.22 249.92 L247.28 249.28 L248.34 248.71 L249.40 248.20 L250.46 247.76 L251.51 247.39 L252.57 247.11 L253.63 246.92 L254.69 246.81 L255.75 246.80 L256.81 246.90 L257.87 247.10 L258.92 247.41 L259.98 247.84 L261.04 248.36 L262.10 248.99 L263.16 249.71 L264.22 250.52 L265.27 251.40 L266.33 252.37 L267.39 253.40 L268.45 254.50 L269.51 255.65 L270.57 256.86 L271.62 258.11 L272.68 259.41 L273.74 260.73 L274.80 262.09 L275.86 263.47 L276.92 264.87 L277.97 266.28 L279.03 267.69 L280.09 269.10 L281.15 270.51 L282.21 271.91 L283.27 273.28 L284.32 274.64 L285.38 275.96 L286.44 277.25 L287.50 278.50 L288.56 279.70 L289.62 280.85 L290.67 281.94 L291.73 282.96 L292.79 283.92 L293.85 284.79 L294.91 285.59 L295.97 286.30 L297.02 286.91 L298.08 287.43 L299.14 287.86 L300.20 288.20 L301.26 288.47 L302.32 288.66 L303.38 288.77 L304.43 288.83 L305.49 288.82 L306.55 288.76 L307.61 288.64 L308.67 288.48 L309.73 288.29 L310.78 288.05 L311.84 287.79 L312.90 287.50 L313.96 287.19 L315.02 286.87 L316.08 286.54 L317.13 286.20 L318.19 285.86 L319.25 285.53 L320.31 285.21 L321.37 284.91 L322.43 284.62 L323.48 284.36 L324.54 284.13 L325.60 283.94 L326.66 283.79 L327.72 283.68 L328.78 283.62 L329.83 283.62 L330.89 283.68 L331.95 283.81 L333.01 284.01 L334.07 284.28 L335.13 284.64 L336.18 285.07 L337.24 285.59 L338.30 286.19 L339.36 286.86 L340.42 287.60 L341.48 288.41 L342.53 289.27 L343.59 290.19 L344.65 291.17 L345.71 292.19 L346.77 293.26 L347.83 294.37 L348.89 295.52 L349.94 296.70 L351.00 297.91 L352.06 299.15 L353.12 300.40 L354.18 301.67 L355.24 302.96 L356.29 304.25 L357.35 305.55 L358.41 306.85 L359.47 308.14 L360.53 309.43 L361.59 310.71 L362.64 311.97 L363.70 313.21 L364.76 314.43 L365.82 315.62 L366.88 316.78 L367.94 317.90 L368.99 318.99 L370.05 320.03 L371.11 321.02 L372.17 321.96 L373.23 322.85 L374.29 323.67 L375.34 324.44 L376.40 325.15 L377.46 325.81 L378.52 326.42 L379.58 326.97 L380.64 327.49 L381.69 327.95 L382.75 328.38 L383.81 328.77 L384.87 329.12 L385.93 329.44 L386.99 329.72 L388.04 329.98 L389.10 330.21 L390.16 330.41 L391.22 330.60 L392.28 330.76 L393.34 330.91 L394.39 331.04 L395.45 331.16 L396.51 331.27 L397.57 331.38 L398.63 331.48 L399.69 331.57 L400.75 331.67 L401.80 331.77 L402.86 331.87 L403.92 331.99 L404.98 332.11 L406.04 332.24 L407.10 332.39 L408.15 332.56 L409.21 332.74 L410.27 332.95 L411.33 333.19 L412.39 333.45 L413.45 333.73 L414.50 334.04 L415.56 334.38 L416.62 334.74 L417.68 335.12 L418.74 335.52 L419.80 335.94 L420.85 336.37 L421.91 336.82 L422.97 337.28 L424.03 337.76 L425.09 338.24 L426.15 338.73 L427.20 339.23 L428.26 339.74 L429.32 340.24 L430.38 340.75 L431.44 341.26 L432.50 341.77 L433.55 342.28 L434.61 342.78 L435.67 343.28 L436.73 343.77 L437.79 344.25 L438.85 344.72 L439.90 345.18 L440.96 345.63 L442.02 346.06 L443.08 346.47 L444.14 346.87 L445.20 347.24 L446.26 347.60 L447.31 347.93 L448.37 348.23 L449.43 348.51 L450.49 348.77 L451.55 348.99 L452.61 349.19 L453.66 349.36 L454.72 349.50 L455.78 349.62 L456.84 349.71 L457.90 349.78 L458.96 349.83 L460.01 349.85 L461.07 349.85 L462.13 349.84 L463.19 349.80 L464.25 349.74 L465.31 349.67 L466.36 349.57 L467.42 349.46 L468.48 349.34 L469.54 349.20 L470.60 349.04 L471.66 348.88 L472.71 348.70 L473.77 348.50 L474.83 348.30 L475.89 348.09 L476.95 347.86 L478.01 347.63 L479.06 347.39 L480.12 347.14 L481.18 346.89 L482.24 346.63 L483.30 346.36 L484.36 346.10 L485.41 345.82 L486.47 345.55 L487.53 345.28 L488.59 345.00" fill="none" stroke="#1414e6" stroke-width="1.8"/>
<path d="M51.0 191.2V364.5H496.3V191.6" fill="none" stroke="#1a1a1a" stroke-width="1.3"/>
<path d="M51.0 348.20h5.8M51.0 316.80h5.8M51.0 285.40h5.8M51.0 254.00h5.8M51.0 222.60h5.8M51.0 191.20h5.8M66.30 364.5v-6M104.69 364.5v-6M143.08 364.5v-6M181.47 364.5v-6M219.86 364.5v-6M258.25 364.5v-6M296.64 364.5v-6M335.03 364.5v-6M373.42 364.5v-6M411.81 364.5v-6M450.20 364.5v-6M488.59 364.5v-6" fill="none" stroke="#1a1a1a" stroke-width="1.1"/>
<g font-family='"Liberation Sans", sans-serif' font-size="12.6" fill="#111">
<text x="49.8" y="352.80" text-anchor="end">0</text>
<text x="49.8" y="321.40" text-anchor="end">100</text>
<text x="49.8" y="290.00" text-anchor="end">200</text>
<text x="49.8" y="258.60" text-anchor="end">300</text>
<text x="49.8" y="227.20" text-anchor="end">400</text>
<text x="49.8" y="195.80" text-anchor="end">500</text>
<text transform="translate(23.2 272) rotate(-90)" text-anchor="middle" font-size="12.7">Precipitation (mm/month)</text>
</g>
<g font-family='"Liberation Sans", sans-serif' font-size="9.3" fill="#111">
<text transform="translate(69.90 372.2) rotate(-27)" text-anchor="end">January</text>
<text transform="translate(108.29 372.2) rotate(-27)" text-anchor="end">February</text>
<text transform="translate(146.68 372.2) rotate(-27)" text-anchor="end">March</text>
<text transform="translate(185.07 372.2) rotate(-27)" text-anchor="end">April</text>
<text transform="translate(223.46 372.2) rotate(-27)" text-anchor="end">May</text>
<text transform="translate(261.85 372.2) rotate(-27)" text-anchor="end">June</text>
<text transform="translate(300.24 372.2) rotate(-27)" text-anchor="end">July</text>
<text transform="translate(338.63 372.2) rotate(-27)" text-anchor="end">August</text>
<text transform="translate(377.02 372.2) rotate(-27)" text-anchor="end">September</text>
<text transform="translate(415.41 372.2) rotate(-27)" text-anchor="end">October</text>
<text transform="translate(453.80 372.2) rotate(-27)" text-anchor="end">November</text>
<text transform="translate(492.19 372.2) rotate(-27)" text-anchor="end">December</text>
</g>
<text x="57.3" y="207.0" font-family='"Liberation Sans", sans-serif' font-size="19.5" fill="#333">(b)</text>
<path d="M78.2 211.4H107.4" stroke="#1414e6" stroke-width="1.8"/>
<path d="M78.2 227H107.4" stroke="#ee1c1c" stroke-width="1.8"/>
<text x="111" y="216" font-family='"Liberation Sans", sans-serif' font-size="13" fill="#111">2019</text>
<text x="111" y="231.6" font-family='"Liberation Sans", sans-serif' font-size="12.8" fill="#111">Monthly average</text></svg>
</body></html>
